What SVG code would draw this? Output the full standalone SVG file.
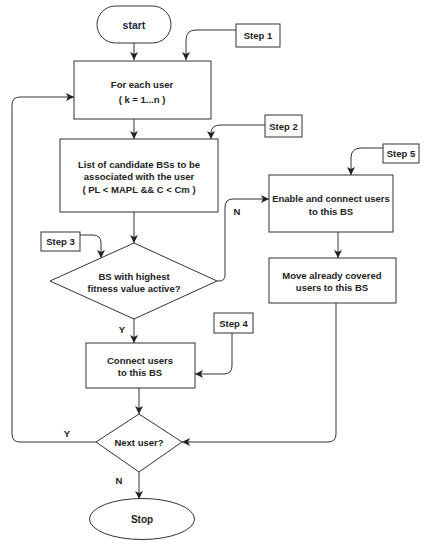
<svg xmlns="http://www.w3.org/2000/svg" width="428" height="550" viewBox="0 0 428 550">
<style>
.n{fill:#fff;stroke:#333;stroke-width:1}
.t{font-family:"Liberation Sans",Arial,sans-serif;font-weight:bold;font-size:9.5px;fill:#222;text-anchor:middle}
.c{fill:none;stroke:#333;stroke-width:1}
</style>
<defs>
<marker id="a" markerUnits="userSpaceOnUse" markerWidth="9" markerHeight="8" refX="8" refY="4" orient="auto">
<path d="M0,0 L8,4 L0,8 L2,4 z" fill="#222"/>
</marker>
</defs>
<rect width="428" height="550" fill="#fff"/>
<g id="connectors">
<path class="c" d="M134,43 V60" marker-end="url(#a)"/>
<path class="c" d="M236,30 H196 Q186,30 186,40 V60" marker-end="url(#a)"/>
<path class="c" d="M134,119 V139" marker-end="url(#a)"/>
<path class="c" d="M265,125 H221 Q211,125 211,133 V139" marker-end="url(#a)"/>
<path class="c" d="M383,148 H361 Q351,148 351,158 V175" marker-end="url(#a)"/>
<path class="c" d="M134,212 V243" marker-end="url(#a)"/>
<path class="c" d="M80,235 H93 Q101,235 101,243 V258" marker-end="url(#a)"/>
<path class="c" d="M217,281 H219 Q225,281 225,275 V207 Q225,199 233,199 H269" marker-end="url(#a)"/>
<path class="c" d="M134,319 V343" marker-end="url(#a)"/>
<path class="c" d="M232,333 V366 Q232,374 224,374 H195" marker-end="url(#a)"/>
<path class="c" d="M338,232 V258" marker-end="url(#a)"/>
<path class="c" d="M336,303 V434 Q336,442 328,442 H182" marker-end="url(#a)"/>
<path class="c" d="M139,388 V414" marker-end="url(#a)"/>
<path class="c" d="M96,442 H20 Q12,442 12,434 V105 Q12,97 20,97 H74" marker-end="url(#a)"/>
<path class="c" d="M139,472 V499" marker-end="url(#a)"/>
<text class="t" x="237" y="215">N</text>
<text class="t" x="122" y="333">Y</text>
<text class="t" x="67" y="437">Y</text>
<text class="t" x="119" y="484">N</text>
</g>
<g id="start">
<rect class="n" x="97" y="6" width="74" height="37" rx="18.5" ry="18.5"/>
<text class="t" x="134" y="29" style="fill:#1c2b4a;font-size:10.5px">start</text>
</g>
<g id="step1">
<rect class="n" x="236" y="24" width="44" height="23"/>
<text class="t" x="258" y="39">Step 1</text>
</g>
<g id="foreach">
<rect class="n" x="74" y="61" width="137" height="58"/>
<text class="t" x="142" y="88">For each user</text>
<text class="t" x="142" y="103">( k = 1...n )</text>
</g>
<g id="step2">
<rect class="n" x="265" y="115" width="37" height="22"/>
<text class="t" x="283.5" y="129.5">Step 2</text>
</g>
<g id="candidates">
<rect class="n" x="60" y="139" width="158" height="73"/>
<text class="t" x="139" y="168">List of candidate BSs to be</text>
<text class="t" x="139" y="180">associated with the user</text>
<text class="t" x="139" y="193">( PL &lt; MAPL &amp;&amp; C &lt; Cm )</text>
</g>
<g id="step5">
<rect class="n" x="383" y="144" width="36" height="19"/>
<text class="t" x="401" y="157">Step 5</text>
</g>
<g id="enable">
<rect class="n" x="269" y="175" width="124" height="57"/>
<text class="t" x="331" y="202">Enable and connect users</text>
<text class="t" x="331" y="215">to this BS</text>
</g>
<g id="step3">
<rect class="n" x="41" y="232" width="39" height="19"/>
<text class="t" x="60.5" y="245">Step 3</text>
</g>
<g id="decision1">
<polygon class="n" points="134,243 217,281 134,319 50,281"/>
<text class="t" x="134" y="280">BS with highest</text>
<text class="t" x="134" y="292">fitness value active?</text>
</g>
<g id="move">
<rect class="n" x="269" y="258" width="127" height="45"/>
<text class="t" x="332" y="279">Move already covered</text>
<text class="t" x="332" y="291">users to this BS</text>
</g>
<g id="step4">
<rect class="n" x="214" y="313" width="39" height="20"/>
<text class="t" x="233.5" y="326.5">Step 4</text>
</g>
<g id="connect">
<rect class="n" x="86" y="343" width="109" height="45"/>
<text class="t" x="140" y="364">Connect users</text>
<text class="t" x="140" y="376">to this BS</text>
</g>
<g id="decision2">
<polygon class="n" points="139,414 182,442 139,472 96,442"/>
<text class="t" x="139" y="446">Next user?</text>
</g>
<g id="stop">
<ellipse class="n" cx="142" cy="519" rx="52.5" ry="20.5"/>
<text class="t" x="142" y="523" style="font-size:10px">Stop</text>
</g>
</svg>
